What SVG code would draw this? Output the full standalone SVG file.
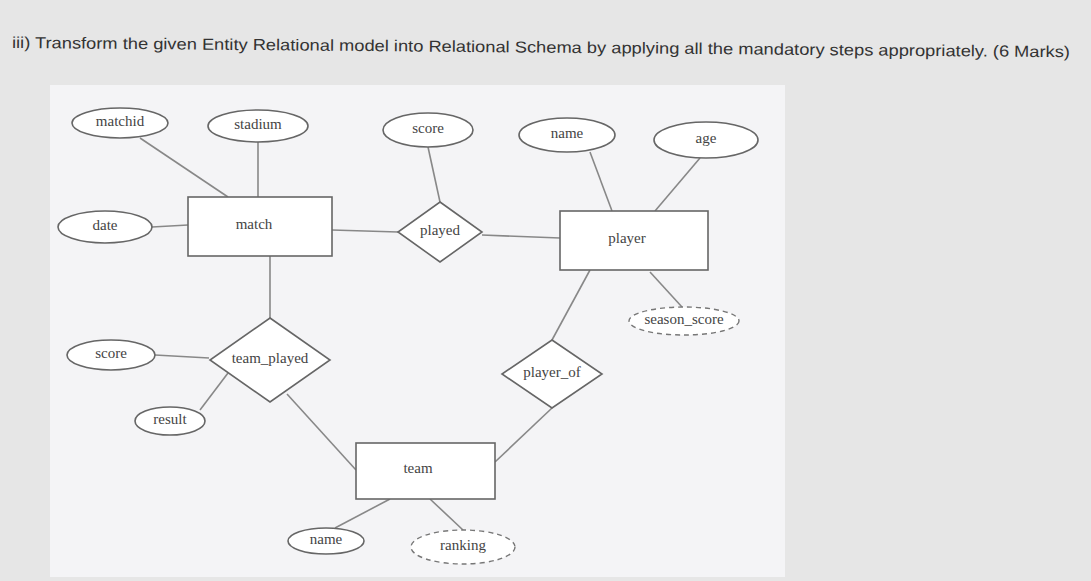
<svg xmlns="http://www.w3.org/2000/svg" width="1091" height="581" viewBox="0 0 1091 581">
<style>
.s{fill:#fff;stroke:#666;stroke-width:1.6}
.d{fill:#fff;stroke:#777;stroke-width:1.4;stroke-dasharray:5 4}
.t{font-family:"Liberation Serif",serif;font-size:15px;fill:#444;text-anchor:middle;dominant-baseline:middle}
.c line{stroke:#888;stroke-width:1.6}
</style>
<rect width="1091" height="581" fill="#e6e6e6"/>
<rect x="50" y="85" width="735" height="492" fill="#f4f4f6"/>
<text x="12" y="48" font-family="Liberation Sans,sans-serif" font-size="16" fill="#333" textLength="1058" lengthAdjust="spacingAndGlyphs" transform="rotate(0.5 12 48)">iii) Transform the given Entity Relational model into Relational Schema by applying all the mandatory steps appropriately. (6 Marks)</text>
<g class="c">
<line x1="140" y1="138" x2="228" y2="197"/>
<line x1="258" y1="142" x2="258" y2="197"/>
<line x1="152" y1="227" x2="188" y2="225"/>
<line x1="332" y1="230" x2="398" y2="232"/>
<line x1="428" y1="147" x2="440" y2="202"/>
<line x1="482" y1="235" x2="560" y2="238"/>
<line x1="590" y1="152" x2="612" y2="211"/>
<line x1="700" y1="158" x2="655" y2="211"/>
<line x1="650" y1="272" x2="682" y2="307"/>
<line x1="270" y1="256" x2="270" y2="318"/>
<line x1="155" y1="355" x2="209" y2="358"/>
<line x1="200" y1="410" x2="228" y2="373"/>
<line x1="287" y1="394" x2="356" y2="470"/>
<line x1="552" y1="340" x2="590" y2="270"/>
<line x1="552" y1="408" x2="495" y2="462"/>
<line x1="390" y1="499" x2="335" y2="528"/>
<line x1="430" y1="499" x2="463" y2="530"/>
</g>
<g id="matchid"><ellipse class="s" cx="120" cy="123" rx="48" ry="15"/><text class="t" x="120" y="123">matchid</text></g>
<g id="stadium"><ellipse class="s" cx="258" cy="126" rx="50" ry="16"/><text class="t" x="258" y="126">stadium</text></g>
<g id="score_top"><ellipse class="s" cx="428" cy="130" rx="45" ry="17"/><text class="t" x="428" y="130">score</text></g>
<g id="name_top"><ellipse class="s" cx="567" cy="135" rx="48" ry="17"/><text class="t" x="567" y="135">name</text></g>
<g id="age"><ellipse class="s" cx="706" cy="140" rx="52" ry="18"/><text class="t" x="706" y="140">age</text></g>
<g id="date"><ellipse class="s" cx="105" cy="227" rx="47" ry="16"/><text class="t" x="105" y="227">date</text></g>
<g id="score_left"><ellipse class="s" cx="111" cy="355" rx="44" ry="15"/><text class="t" x="111" y="355">score</text></g>
<g id="result"><ellipse class="s" cx="170" cy="421" rx="35" ry="14"/><text class="t" x="170" y="421">result</text></g>
<g id="name_bottom"><ellipse class="s" cx="326" cy="541" rx="38" ry="13"/><text class="t" x="326" y="541">name</text></g>
<g id="ranking"><ellipse class="d" cx="463" cy="547" rx="52" ry="17"/><text class="t" x="463" y="547">ranking</text></g>
<g id="season_score"><ellipse class="d" cx="684" cy="321" rx="55" ry="14"/><text class="t" x="684" y="321" font-size="13">season_score</text></g>
<g id="match"><rect class="s" x="188" y="197" width="144" height="59"/><text class="t" x="254" y="226">match</text></g>
<g id="player"><rect class="s" x="560" y="211" width="148" height="59"/><text class="t" x="627" y="240">player</text></g>
<g id="team"><rect class="s" x="356" y="443" width="139" height="56"/><text class="t" x="418" y="470">team</text></g>
<g id="played"><polygon class="s" points="440,202 482,232 440,262 398,232"/><text class="t" x="440" y="232">played</text></g>
<g id="team_played"><polygon class="s" points="270,318 330,360 270,402 210,360"/><text class="t" x="270" y="360">team_played</text></g>
<g id="player_of"><polygon class="s" points="552,340 602,374 552,408 502,374"/><text class="t" x="552" y="374">player_of</text></g>
</svg>
